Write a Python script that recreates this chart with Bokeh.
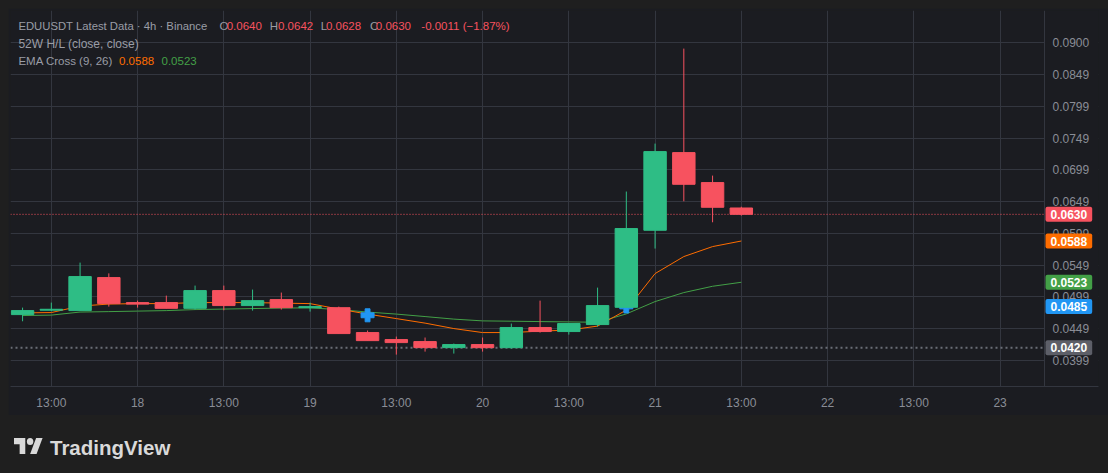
from bokeh.plotting import figure
from bokeh.models import ColumnDataSource, FixedTicker, Label, Div, Range1d
from bokeh.layouts import column
from bokeh.embed import file_html
from bokeh.resources import INLINE

# ---------------- data ----------------
candle_index = list(range(26))
opens = [0.04721, 0.04790, 0.04784, 0.05304, 0.04910, 0.04910, 0.04820, 0.05099, 0.04863, 0.04957,
         0.04830, 0.04830, 0.04438, 0.04328, 0.04296, 0.04201, 0.04249, 0.04200, 0.04517, 0.04454,
         0.04564, 0.04836, 0.06049, 0.07272, 0.06800, 0.06400]
highs = [0.04831, 0.04910, 0.05540, 0.05370, 0.04941, 0.05020, 0.05178, 0.05178, 0.05115, 0.05068,
         0.04910, 0.04847, 0.04470, 0.04375, 0.04360, 0.04265, 0.04360, 0.04580, 0.04941, 0.04580,
         0.05146, 0.06659, 0.07414, 0.08910, 0.06910, 0.06420]
lows = [0.04616, 0.04773, 0.04784, 0.04847, 0.04831, 0.04820, 0.04800, 0.04789, 0.04784, 0.04800,
        0.04768, 0.04422, 0.04311, 0.04091, 0.04138, 0.04107, 0.04138, 0.04186, 0.04438, 0.04406,
        0.04533, 0.04836, 0.05761, 0.06506, 0.06175, 0.06280]
closes = [0.04784, 0.04805, 0.05320, 0.04894, 0.04886, 0.04820, 0.05099, 0.04863, 0.04941, 0.04830,
          0.04847, 0.04422, 0.04311, 0.04280, 0.04201, 0.04249, 0.04200, 0.04517, 0.04454, 0.04580,
          0.04863, 0.06076, 0.07288, 0.06773, 0.06411, 0.06300]
ema9 = [0.04748, 0.04753, 0.04855, 0.04887, 0.04894, 0.04894, 0.04910, 0.04910, 0.04910, 0.04902,
        0.04894, 0.04808, 0.04729, 0.04658, 0.04587, 0.04501, 0.04438, 0.04438, 0.04461, 0.04477,
        0.04540, 0.04792, 0.05367, 0.05635, 0.05792, 0.05880]
ema26 = [0.04706, 0.04713, 0.04761, 0.04768, 0.04776, 0.04784, 0.04800, 0.04808, 0.04816, 0.04824,
         0.04827, 0.04800, 0.04761, 0.04729, 0.04690, 0.04650, 0.04622, 0.04617, 0.04611, 0.04606,
         0.04600, 0.04732, 0.04926, 0.05068, 0.05167, 0.05230]
cross_index = [12, 21]
cross_price = [0.04710, 0.04850]
last_price = 0.0630
low_52w = 0.0420

price_ticks = [0.040, 0.045, 0.050, 0.055, 0.060, 0.065, 0.070, 0.075, 0.080, 0.085, 0.090]
price_tick_labels = ["0.0399", "0.0449", "0.0499", "0.0549", "0.0599", "0.0649",
                     "0.0699", "0.0749", "0.0799", "0.0849", "0.0900"]
time_ticks = [1, 4, 7, 10, 13, 16, 19, 22, 25, 28, 31, 34]
time_tick_labels = ["13:00", "18", "13:00", "19", "13:00", "20",
                    "13:00", "21", "13:00", "22", "13:00", "23"]

# ---------------- style / layout constants ----------------
GREEN = "#2ebd85"
RED = "#f7525f"
ORANGE = "#ff6d00"
EMA_GREEN = "#43a047"
BLUE = "#2196f3"
BG = "#1b1c21"
OUTER = "#1f1f1f"
GRID = "#33363f"
AXIS_TXT = "#8a8d96"
HEAD_TXT = "#9a9da6"
FONT = "Liberation Sans"

PPC = 28.75          # pixels per candle
PPU = 6350.0         # pixels per price unit
FRAME_W, FRAME_H = 1088, 376   # frame covers plot + price-scale strip
X_START = -0.42
X_END = X_START + FRAME_W / PPC
Y_END = 0.0951
Y_START = Y_END - FRAME_H / PPU


def hx(px):  # page x (reference) -> data x
    return X_START + (px - 10) / PPC


def hy(py):  # page y (reference) -> data y
    return Y_END - (py - 10) / PPU


AXIS_X = hx(1044)   # where the price scale sits

up = [c >= o for o, c in zip(opens, closes)]
src = ColumnDataSource(dict(
    x=candle_index,
    top=[max(o, c) for o, c in zip(opens, closes)],
    bottom=[min(o, c) for o, c in zip(opens, closes)],
    high=highs, low=lows,
    color=[GREEN if u else RED for u in up],
))

p = figure(width=2 + FRAME_W + 60, height=407,
           x_range=Range1d(X_START, X_END), y_range=Range1d(Y_START, Y_END),
           output_backend="svg", toolbar_location=None, y_axis_location="right",
           min_border_left=2, min_border_top=2, min_border_right=60, min_border_bottom=29,
           background_fill_color=BG, border_fill_color=BG, outline_line_color=None)

# grid
p.xgrid.ticker = FixedTicker(ticks=time_ticks)
p.ygrid.ticker = FixedTicker(ticks=price_ticks)
p.xgrid.grid_line_color = GRID
p.ygrid.grid_line_color = GRID

# axes
p.yaxis.ticker = FixedTicker(ticks=price_ticks)
p.yaxis.major_label_overrides = dict(zip(price_ticks, price_tick_labels))
p.yaxis.fixed_location = AXIS_X
p.xaxis.ticker = FixedTicker(ticks=time_ticks)
p.xaxis.major_label_overrides = dict(zip(time_ticks, time_tick_labels))
for ax in (p.xaxis, p.yaxis):
    ax.major_tick_line_color = None
    ax.minor_tick_line_color = None
    ax.major_tick_out = 0
    ax.major_tick_in = 0
    ax.minor_tick_out = 0
    ax.minor_tick_in = 0
    ax.axis_line_color = GRID
    ax.major_label_text_color = AXIS_TXT
    ax.major_label_text_font_size = "12px"
    ax.major_label_text_font = FONT
p.yaxis.major_label_standoff = 8
p.xaxis.major_label_standoff = 9

# price-scale strip background (hides grid there)
p.quad(left=[AXIS_X], right=[X_END], bottom=[Y_START], top=[Y_END],
       fill_color=BG, line_color=None)

# dotted lines
p.segment(x0=[X_START], y0=[low_52w], x1=[AXIS_X], y1=[low_52w],
          line_color="#6a6d76", line_width=2, line_dash="2 3")
p.segment(x0=[X_START], y0=[last_price], x1=[AXIS_X], y1=[last_price],
          line_color=RED, line_width=1, line_dash="1 2")

# EMA lines
p.line(candle_index, ema26, line_color=EMA_GREEN, line_width=1)
p.line(candle_index, ema9, line_color=ORANGE, line_width=1)

# cross markers
p.scatter(cross_index, cross_price, marker="plus", size=13, color=BLUE)

# candles
p.segment(x0="x", y0="low", x1="x", y1="high", line_color="color", line_width=1, source=src)
p.vbar(x="x", width=0.78, top="top", bottom="bottom", fill_color="color",
       line_color="color", line_width=1, source=src)

# header texts
row1, row2, row3 = 25.5, 43.2, 60.7
segments = [
    ("EDUUSDT Latest Data · 4h · Binance", 17.9, row1, HEAD_TXT, "11.3px"),
    ("O", 219.0, row1, HEAD_TXT, "11.5px"), ("0.0640", 226.2, row1, RED, "11.5px"),
    ("H", 269.3, row1, HEAD_TXT, "11.5px"), ("0.0642", 277.5, row1, RED, "11.5px"),
    ("L", 320.2, row1, HEAD_TXT, "11.5px"), ("0.0628", 325.4, row1, RED, "11.5px"),
    ("C", 369.5, row1, HEAD_TXT, "11.5px"), ("0.0630", 375.3, row1, RED, "11.5px"),
    ("-0.0011 (\u22121.87%)", 420.8, row1, RED, "11.5px"),
    ("52W H/L (close, close)", 17.9, row2, HEAD_TXT, "12px"),
    ("EMA Cross (9, 26)", 17.9, row3, HEAD_TXT, "11.5px"),
    ("0.0588", 118.5, row3, ORANGE, "11.5px"), ("0.0523", 161.0, row3, EMA_GREEN, "11.5px"),
]
for txt, px, py, col, fs in segments:
    p.add_layout(Label(x=hx(px), y=hy(py), text=txt, text_color=col,
                       text_font=FONT, text_font_size=fs,
                       text_baseline="middle", text_align="left"))

# price tags on the price scale
tags = [(last_price, "0.0630", RED), (ema9[-1], "0.0588", ORANGE),
        (ema26[-1], "0.0523", EMA_GREEN), (cross_price[-1], "0.0485", BLUE),
        (low_52w, "0.0420", "#5d5f68")]
for val, txt, col in tags:
    p.add_layout(Label(x=hx(1045), y=val, text=txt, text_color="white",
                       text_font=FONT, text_font_size="12px", text_font_style="bold",
                       text_baseline="middle", text_align="left",
                       background_fill_color=col, padding=(5, 3), border_radius=2))

logo_html = """
<div style="position:relative;width:300px;height:58px;">
<svg style="position:absolute;left:1px;top:18px" width="29" height="16" viewBox="0 4 36 18" preserveAspectRatio="none">
<path d="M14 22H7V11H0V4h14v18z" fill="#d9d9d9"/>
<path d="M28 22h-8l7.5-18h8L28 22z" fill="#d9d9d9"/>
<circle cx="20" cy="8" r="4" fill="#d9d9d9"/>
</svg>
<span style="position:absolute;left:37px;top:13px;font-family:'Liberation Sans';font-weight:bold;font-size:20.5px;color:#d9d9d9;white-space:nowrap;">TradingView</span>
</div>
"""
logo = Div(text=logo_html, width=1090, height=58)

layout = column(p, logo, spacing=0)

html = file_html(layout, INLINE)
html = html.replace("</head>",
                    "<style>html,body{background:%s !important;overflow:hidden !important;} "
                    "body{padding:8px !important;}</style></head>" % OUTER, 1)
open("out.html", "w").write(html)
